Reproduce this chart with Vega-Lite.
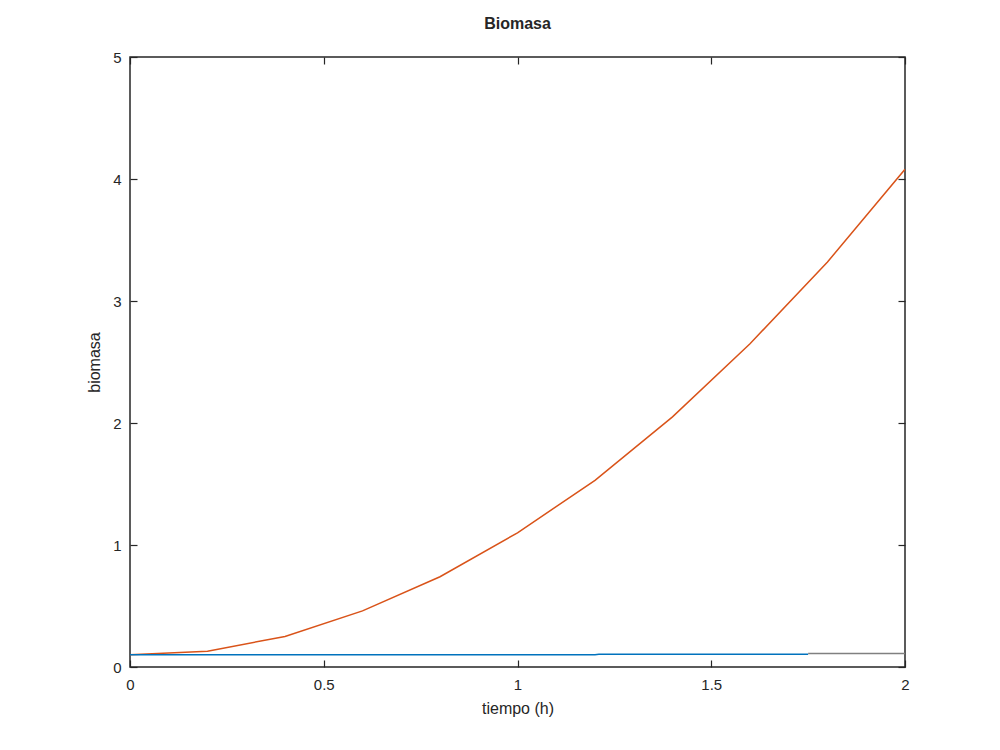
{
  "$schema": "https://vega.github.io/schema/vega-lite/v6.json",
  "width": 775,
  "height": 610,
  "autosize": "none",
  "padding": {"left": 130, "top": 57, "right": 95, "bottom": 83},
  "background": "white",
  "title": {
    "text": "Biomasa",
    "fontSize": 16,
    "fontWeight": "bold",
    "font": "Liberation Sans",
    "color": "#262626",
    "offset": 18
  },
  "config": {
    "view": {"stroke": "#262626", "strokeWidth": 1.5},
    "axis": {
      "font": "Liberation Sans",
      "labelFont": "Liberation Sans",
      "titleFont": "Liberation Sans",
      "labelFontSize": 15,
      "titleFontSize": 16,
      "labelColor": "#262626",
      "titleColor": "#262626",
      "titleFontWeight": "normal",
      "domain": false,
      "grid": false,
      "tickColor": "#262626",
      "tickWidth": 1.2,
      "tickSize": -7,
      "format": "~g"
    }
  },
  "data": {
    "values": [
      {"t": 0.0, "v": 0.1, "serie": "A"},
      {"t": 0.2, "v": 0.13, "serie": "A"},
      {"t": 0.4, "v": 0.25, "serie": "A"},
      {"t": 0.6, "v": 0.46, "serie": "A"},
      {"t": 0.8, "v": 0.74, "serie": "A"},
      {"t": 1.0, "v": 1.1, "serie": "A"},
      {"t": 1.2, "v": 1.53, "serie": "A"},
      {"t": 1.4, "v": 2.05, "serie": "A"},
      {"t": 1.6, "v": 2.65, "serie": "A"},
      {"t": 1.8, "v": 3.32, "serie": "A"},
      {"t": 2.0, "v": 4.08, "serie": "A"},
      {"t": 0.0, "v": 0.1, "serie": "B"},
      {"t": 1.2, "v": 0.1, "serie": "B"},
      {"t": 1.21, "v": 0.104, "serie": "B"},
      {"t": 1.75, "v": 0.104, "serie": "B"},
      {"t": 1.75, "v": 0.11, "serie": "C"},
      {"t": 2.0, "v": 0.11, "serie": "C"}
    ]
  },
  "resolve": {"axis": {"x": "independent", "y": "independent"}},
  "layer": [
    {
      "mark": {"type": "line", "strokeWidth": 1.5, "clip": true},
      "encoding": {
        "x": {
          "field": "t",
          "type": "quantitative",
          "scale": {"domain": [0, 2], "nice": false, "zero": false},
          "axis": {"title": "tiempo (h)", "values": [0, 0.5, 1, 1.5, 2], "labelPadding": 17, "titlePadding": 8, "labelFlush": false}
        },
        "y": {
          "field": "v",
          "type": "quantitative",
          "scale": {"domain": [0, 5], "nice": false},
          "axis": {"title": "biomasa", "values": [0, 1, 2, 3, 4, 5], "labelPadding": 16, "titlePadding": 10, "labelFlush": false}
        },
        "color": {
          "field": "serie",
          "type": "nominal",
          "scale": {"domain": ["A", "B", "C"], "range": ["#D95319", "#0072BD", "#808080"]},
          "legend": null
        },
        "order": {"field": "t", "type": "quantitative"}
      }
    },
    {
      "mark": {"type": "line", "opacity": 0},
      "encoding": {
        "x": {
          "field": "t",
          "type": "quantitative",
          "axis": {"orient": "top", "title": null, "labels": false, "values": [0, 0.5, 1, 1.5, 2]}
        },
        "y": {
          "field": "v",
          "type": "quantitative",
          "axis": {"orient": "right", "title": null, "labels": false, "values": [0, 1, 2, 3, 4, 5]}
        }
      }
    }
  ]
}
